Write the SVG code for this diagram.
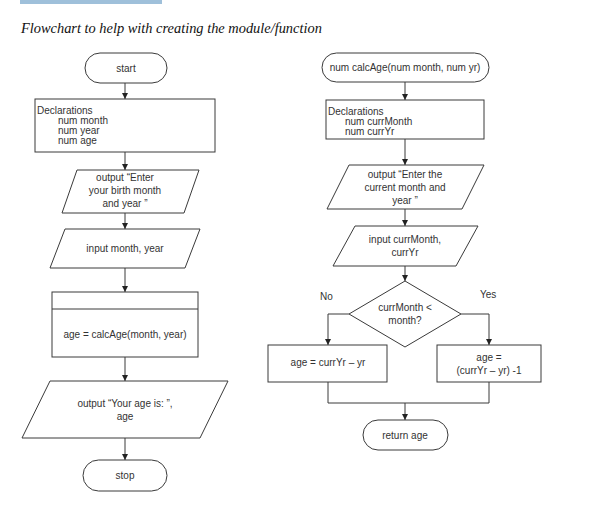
<svg xmlns="http://www.w3.org/2000/svg" width="591" height="523" viewBox="0 0 591 523">
<defs>
<style>
.s{fill:#fff;stroke:#3a3a3a;stroke-width:1}
.t{font-family:"Liberation Sans",Arial,sans-serif;font-size:10px;fill:#333}
.c{text-anchor:middle}
.l{fill:none;stroke:#3a3a3a;stroke-width:1}
</style>
<marker id="a" viewBox="0 0 8 8" refX="8" refY="4" markerWidth="6" markerHeight="6" orient="auto" markerUnits="userSpaceOnUse">
<path d="M0,0 L8,4 L0,8 Z" fill="#222"/>
</marker>
</defs>
<rect x="0" y="0" width="591" height="523" fill="#fff"/>
<rect x="20" y="0" width="142" height="4" fill="#9fc0da"/>
<text x="21" y="33" font-family="'Liberation Serif','Times New Roman',serif" font-style="italic" font-size="14.4" fill="#111">Flowchart to help with creating the module/function</text>

<g id="connectors">
<line class="l" x1="125" y1="83" x2="125" y2="99" marker-end="url(#a)"/>
<line class="l" x1="125" y1="152" x2="125" y2="170" marker-end="url(#a)"/>
<line class="l" x1="125" y1="213" x2="125" y2="229" marker-end="url(#a)"/>
<line class="l" x1="125" y1="268" x2="125" y2="292" marker-end="url(#a)"/>
<line class="l" x1="125" y1="357" x2="125" y2="381" marker-end="url(#a)"/>
<line class="l" x1="125" y1="438" x2="125" y2="460" marker-end="url(#a)"/>
<line class="l" x1="405" y1="82" x2="405" y2="100" marker-end="url(#a)"/>
<line class="l" x1="405" y1="139" x2="405" y2="165" marker-end="url(#a)"/>
<line class="l" x1="405" y1="209" x2="405" y2="226" marker-end="url(#a)"/>
<line class="l" x1="405" y1="266" x2="405" y2="281" marker-end="url(#a)"/>
<polyline class="l" points="349,314 328,314 328,345" marker-end="url(#a)"/>
<polyline class="l" points="461,314 489,314 489,345" marker-end="url(#a)"/>
<polyline class="l" points="328,382 328,403 489,403 489,382"/>
<line class="l" x1="405" y1="403" x2="405" y2="420" marker-end="url(#a)"/>
<text class="t" x="320" y="300">No</text>
<text class="t" x="480" y="298">Yes</text>
</g>

<g id="start">
<rect class="s" x="85" y="53" width="82" height="30" rx="15"/>
<text class="t c" x="126" y="72">start</text>
</g>
<g id="declarations-main">
<rect class="s" x="35" y="99" width="180" height="53"/>
<text class="t" x="37" y="114">Declarations</text>
<text class="t" x="58" y="124">num month</text>
<text class="t" x="58" y="134">num year</text>
<text class="t" x="58" y="144">num age</text>
</g>
<g id="output-enter">
<polygon class="s" points="77,170 199,170 184,213 62,213"/>
<text class="t c" x="125" y="181">output “Enter</text>
<text class="t c" x="125" y="194">your birth month</text>
<text class="t c" x="125" y="207">and year ”</text>
</g>
<g id="input-month-year">
<polygon class="s" points="65,229 200,229 185,268 50,268"/>
<text class="t c" x="125" y="252">input month, year</text>
</g>
<g id="call-calcage">
<rect class="s" x="52" y="292" width="146" height="65"/>
<line class="l" x1="52" y1="309" x2="198" y2="309"/>
<text class="t c" x="125" y="338">age = calcAge(month, year)</text>
</g>
<g id="output-age">
<polygon class="s" points="50,381 228,381 200,438 22,438"/>
<text class="t c" x="125" y="407">output “Your age is: ”,</text>
<text class="t c" x="125" y="420">age</text>
</g>
<g id="stop">
<rect class="s" x="83" y="460" width="84" height="31" rx="15.5"/>
<text class="t c" x="125" y="479">stop</text>
</g>

<g id="calcage-header">
<rect class="s" x="322" y="53" width="167" height="29" rx="14.5"/>
<text class="t c" x="405" y="71">num calcAge(num month, num yr)</text>
</g>
<g id="declarations-func">
<rect class="s" x="326" y="100" width="158" height="39"/>
<text class="t" x="328" y="115">Declarations</text>
<text class="t" x="345" y="125">num currMonth</text>
<text class="t" x="345" y="135">num currYr</text>
</g>
<g id="output-enter-current">
<polygon class="s" points="349,165 484,165 462,209 327,209"/>
<text class="t c" x="405" y="178">output “Enter the</text>
<text class="t c" x="405" y="191">current month and</text>
<text class="t c" x="405" y="204">year ”</text>
</g>
<g id="input-curr">
<polygon class="s" points="355,226 478,226 456,266 333,266"/>
<text class="t c" x="405" y="243">input currMonth,</text>
<text class="t c" x="405" y="256">currYr</text>
</g>
<g id="decision">
<polygon class="s" points="405,281 461,314 405,347 349,314"/>
<text class="t c" x="405" y="311">currMonth &lt;</text>
<text class="t c" x="405" y="324">month?</text>
</g>
<g id="age-no">
<rect class="s" x="268" y="345" width="119" height="37"/>
<text class="t c" x="328" y="366">age = currYr – yr</text>
</g>
<g id="age-yes">
<rect class="s" x="437" y="345" width="104" height="37"/>
<text class="t c" x="489" y="361">age =</text>
<text class="t c" x="489" y="374">(currYr – yr) -1</text>
</g>
<g id="return-age">
<rect class="s" x="363" y="420" width="85" height="30" rx="15"/>
<text class="t c" x="405" y="439">return age</text>
</g>
</svg>
